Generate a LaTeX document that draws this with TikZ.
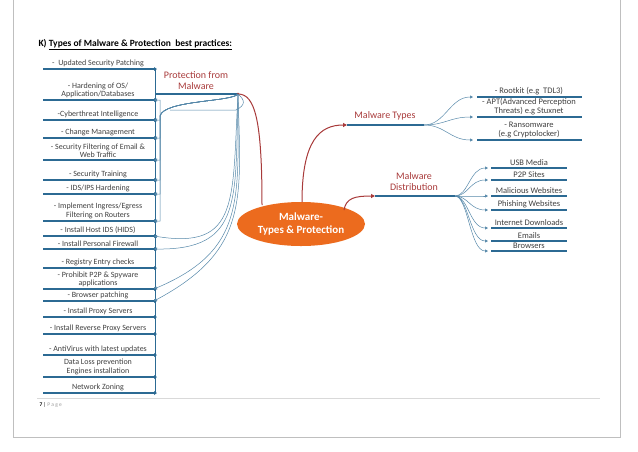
\documentclass[tikz,border=0pt]{standalone}
\usepackage{fontspec}
\setmainfont{Carlito}
\usepackage{tikz}
\usetikzlibrary{arrows.meta, positioning, shapes.geometric}
\definecolor{leaf}{HTML}{2C6A93}
\definecolor{branch}{HTML}{A83A3A}
\definecolor{hub}{HTML}{EC6B1E}
\tikzset{
  item/.style={font=\fontsize{8}{8.5}\selectfont, text=black!75, align=center, anchor=south, inner sep=1pt},
  bar/.style={leaf, line width=1.6pt},
  twig/.style={leaf!80, line width=0.5pt},
  limb/.style={branch, line width=1pt, -{Triangle[length=4pt,width=4pt]}},
  tip/.style={-{Triangle[length=3pt,width=3pt]}}
}
\begin{document}
\begin{tikzpicture}[x=1pt,y=-1pt]
    \useasboundingbox (0,0) rectangle (638,451);
    \draw[black!25] (13,-2) -- (13,437) -- (620,437) -- (620,-2);
    \node[anchor=west, font=\bfseries\fontsize{9.5}{11}\selectfont] (title) at (35,45) {K) \underline{Types of Malware \& Protection\ \ best practices:}};
    \draw[black!15] (37,398) -- (600,398);
    \node[anchor=west, font=\fontsize{5.5}{6}\selectfont] (page) at (36,405) {\textbf{7} | \textcolor{black!40}{P a g e}};
    % hub
    \node[fill=hub, ellipse, minimum width=128, minimum height=44, inner sep=0pt, text=white, font=\bfseries\fontsize{11}{12.5}\selectfont, align=center] (hub) at (301,224) {Malware-\\Types \& Protection};
    % protection side
    \coordinate (pdot) at (238,94);
    \draw[bar] (155,94) -- (pdot);
    \node[text=branch, font=\fontsize{10}{11}\selectfont, align=center] (prot) at (196,81) {Protection from\\Malware};
    \fill[branch] (pdot) circle (1.5);
    \draw[limb, -] (262,205) .. controls (262,120) and (255,94) .. (pdot);
    \draw[leaf, line width=0.8pt] (155,69) -- (155,393);
    \foreach \i/\y/\t in {1/69/{-\ \ Updated Security Patching}, 2/100/{- Hardening of OS/\\Application/Databases},
        3/120/{-Cyberthreat Intelligence}, 4/138/{- Change Management},
        5/160/{- Security Filtering of Email \&\\Web Traffic}, 6/180/{- Security Training},
        7/194/{- IDS/IPS Hardening}, 8/221/{- Implement Ingress/Egress\\Filtering on Routers},
        9/236/{- Install Host IDS (HIDS)}, 10/249/{- Install Personal Firewall},
        11/268/{- Registry Entry checks}, 12/289/{- Prohibit P2P \& Spyware\\applications},
        13/301/{- Browser patching}, 14/317/{- Install Proxy Servers},
        15/334/{- Install Reverse Proxy Servers}, 16/355/{- AntiVirus with latest updates},
        17/377/{Data Loss prevention\\Engines installation}, 18/393/{Network Zoning}} {
        \coordinate (p\i) at (154,\y);
        \draw[bar] (43,\y) -- (p\i);
        \fill[leaf] (p\i) ++(3,0) -- ++(-3,-2) -- ++(0,4) -- cycle;
        \node[item] (t\i) at (98,\y-1) {\t};
    }
    \foreach \i in {2,3,4,5,6,7,8}
        \draw[twig, tip] (pdot) .. controls (232,102) and (164,100) .. (160,116) |- (p\i);
    \draw[twig] (pdot) .. controls (245,100) and (246,105) .. (236,110) -- (170,110);
    \foreach \i/\d in {9/0,10/3,12/6,13/9}
        \draw[twig, tip] (pdot) .. controls (232+\d,200) and (240+\d,250) .. (p\i);
    % malware types
    \coordinate (mt) at (347,125);
    \draw[limb] (302,202) .. controls (302,140) and (320,125) .. (mt);
    \draw[bar] (mt) -- (424,125);
    \node[text=branch, font=\fontsize{10}{11}\selectfont, anchor=south] (mtl) at (385,124) {Malware Types};
    \foreach \i/\y/\t in {1/97/{- Rootkit (e.g\ \ TDL3)}, 2/117/{- APT(Advanced Perception\\Threats) e.g Stuxnet}, 3/140/{- Ransomware\\(e.g Cryptolocker)}} {
        \coordinate (m\i) at (473,\y);
        \draw[bar] (477,\y) -- (582,\y);
        \node[item, font=\fontsize{8.5}{8.5}\selectfont] (mt\i) at (529,\y-1) {\t};
        \draw[twig, tip] (424,125) .. controls (445,125) and (450,\y) .. (m\i);
    }
    % distribution
    \coordinate (md) at (375,196);
    \draw[limb] (344,210) .. controls (346,198) and (355,196) .. (md);
    \draw[bar] (md) -- (455,196);
    \node[text=branch, font=\fontsize{10}{11}\selectfont, align=center, anchor=south] (mdl) at (414,194) {Malware\\Distribution};
    \foreach \i/\y/\t in {1/168/USB Media, 2/180/P2P Sites, 3/196/Malicious Websites, 4/210/Phishing Websites,
        5/228/Internet Downloads, 6/241/Emails, 7/251/Browsers} {
        \coordinate (d\i) at (488,\y);
        \draw[bar] (491,\y) -- (567,\y);
        \node[item, font=\fontsize{8.5}{9}\selectfont] (dt\i) at (529,\y-1) {\t};
        \draw[twig, tip] (455,196) .. controls (468,196) and (470,\y) .. (d\i);
    }
\end{tikzpicture}
\end{document}
